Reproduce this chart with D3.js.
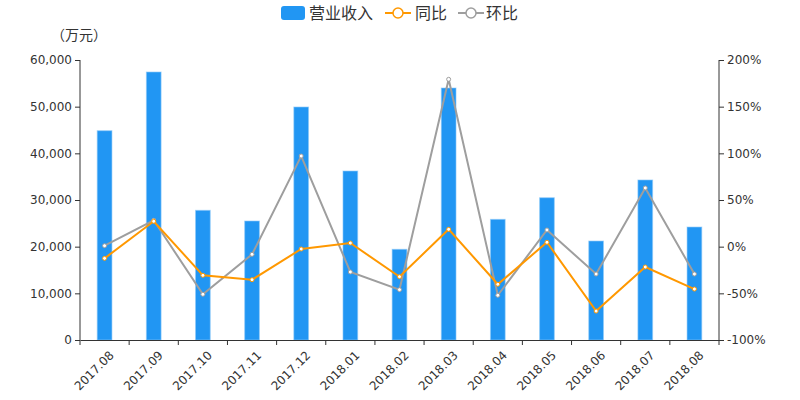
<!DOCTYPE html>
<html><head><meta charset="utf-8">
<script src="https://cdn.jsdelivr.net/npm/d3@7"></script>
<style>body{margin:0;background:#fff}svg{display:block;font-family:"DejaVu Sans","Noto Sans CJK SC",sans-serif}</style>
</head><body><svg id="c" width="800" height="400"></svg>
<script>
const categories=["2017.08","2017.09","2017.10","2017.11","2017.12","2018.01","2018.02","2018.03","2018.04","2018.05","2018.06","2018.07","2018.08"];
const revenue=[44850,57430,27790,25500,49930,36210,19440,54000,25860,30490,21210,34290,24210];
const yoy=[-12.5,27.2,-30.7,-35.4,-2.5,3.9,-32.2,18.6,-40.3,4.7,-69,-21.8,-45.4];
const mom=[1.0,28.3,-51,-8.2,97.1,-27.1,-46.1,179.3,-52.1,17.9,-29.3,62.9,-29.3];
const leftTicks=[0,10000,20000,30000,40000,50000,60000];
const rightTicks=[-100,-50,0,50,100,150,200];
const seriesNames=["营业收入","同比","环比"];
const unitLabel="（万元）";

const svg=d3.select("#c");
const L=80,R=719,T=60,B=340;
const x=d3.scaleBand().domain(categories).range([L,R]);
const yL=d3.scaleLinear().domain([0,60000]).range([B,T]);
const yR=d3.scaleLinear().domain([-100,200]).range([B,T]);
const blue="#2196f3",orange="#ff9800",gray="#9e9e9e",txt="#333";
const cjk='"Noto Sans CJK SC","DejaVu Sans",sans-serif';

// bars
const bw=x.bandwidth()*0.3;
svg.append("g").selectAll("rect").data(revenue).join("rect")
 .attr("x",(d,i)=>x(categories[i])+x.bandwidth()/2-bw/2)
 .attr("y",d=>yL(d)).attr("width",bw).attr("height",d=>B-yL(d))
 .attr("fill",blue).attr("stroke","#90caf9").attr("stroke-width",1).attr("stroke-opacity",0.6);

// axes
const fmt=d3.format(",");
const gl=svg.append("g").attr("transform",`translate(${L},0)`)
 .call(d3.axisLeft(yL).tickValues(leftTicks).tickFormat(fmt).tickSize(5).tickPadding(3));
const gr=svg.append("g").attr("transform",`translate(${R},0)`)
 .call(d3.axisRight(yR).tickValues(rightTicks).tickFormat(d=>d+"%").tickSize(5).tickPadding(3));
const gx=svg.append("g").attr("transform",`translate(0,${B})`)
 .call(d3.axisBottom(x).tickSize(0).tickFormat(""));
svg.append("g").selectAll("line").data(d3.range(categories.length+1)).join("line")
 .attr("x1",i=>L+i*x.step()).attr("x2",i=>L+i*x.step())
 .attr("y1",B).attr("y2",B+5).attr("stroke",txt);
svg.append("g").selectAll("text").data(categories).join("text")
 .attr("transform",d=>`translate(${x(d)+x.bandwidth()/2+4},${B+10}) rotate(-45)`)
 .attr("text-anchor","end").attr("dy","0.71em").attr("font-size",12).attr("fill",txt).text(d=>d);
[gl,gr,gx].forEach(g=>{
 g.selectAll("path").attr("stroke",txt);
 g.selectAll(".tick line").attr("stroke",txt);
 g.selectAll("text").attr("font-size",12).attr("fill",txt).attr("font-family",'"DejaVu Sans",sans-serif');
});
gl.select(".domain").attr("d",`M-0,${T}V${B}`);
gr.select(".domain").attr("d",`M0,${T}V${B}`);

// lines
function drawLine(vals,color){
 const pts=vals.map((v,i)=>[x(categories[i])+x.bandwidth()/2,yR(v)]);
 svg.append("path").attr("d",d3.line()(pts)).attr("fill","none").attr("stroke",color).attr("stroke-width",2);
 svg.append("g").selectAll("circle").data(vals).join("circle")
  .attr("cx",(d,i)=>x(categories[i])+x.bandwidth()/2).attr("cy",d=>yR(d)).attr("r",2)
  .attr("fill","#fff").attr("stroke",color).attr("stroke-width",1);
}
drawLine(mom,gray);
drawLine(yoy,orange);

// unit label (one glyph per tspan so full-width brackets keep their width)
const ut=svg.append("text").attr("y",40).attr("font-size",14).attr("font-family",cjk).attr("fill",txt);
ut.selectAll("tspan").data(Array.from(unitLabel)).join("tspan")
 .attr("x",(d,i)=>51+i*14).text(d=>d);

// legend
const lg=svg.append("g").attr("font-family",cjk);
lg.append("rect").attr("x",281).attr("y",6).attr("width",24).attr("height",14).attr("rx",3).attr("fill",blue);
lg.append("text").attr("x",309).attr("y",18.5).attr("font-size",16).attr("fill",txt).text(seriesNames[0]);
[[385,orange,seriesNames[1],415],[458,gray,seriesNames[2],486]].forEach(([lx,c,t,tx])=>{
 lg.append("line").attr("x1",lx).attr("x2",lx+26).attr("y1",13).attr("y2",13).attr("stroke",c).attr("stroke-width",2);
 lg.append("circle").attr("cx",lx+13).attr("cy",13).attr("r",5).attr("fill","#fff").attr("stroke",c).attr("stroke-width",1.5);
 lg.append("text").attr("x",tx).attr("y",18.5).attr("font-size",16).attr("fill",txt).text(t);
});
</script></body></html>
